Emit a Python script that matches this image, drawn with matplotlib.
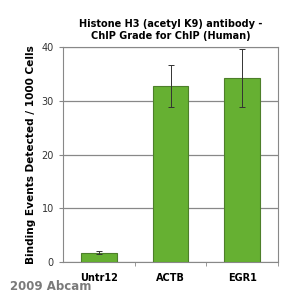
import numpy as np
import matplotlib
matplotlib.use('Agg')
import matplotlib.pyplot as plt

categories = ['Untr12', 'ACTB', 'EGR1']
values = [1.7, 32.7, 34.2]
errors = [0.3, 3.9, 5.4]

fig = plt.figure(figsize=(3.01, 2.96), dpi=100)
ax = fig.add_axes([0.209, 0.115, 0.715, 0.726])

x = np.arange(len(categories))
ax.bar(x, values, width=0.5, color='#66b032', edgecolor='#4d7f2a', linewidth=0.8, zorder=3)
ax.errorbar(x, values, yerr=errors, fmt='none', ecolor='#333333', elinewidth=0.7,
            capsize=2, capthick=0.7, zorder=4)

ax.set_xlim(-0.5, 2.5)
ax.set_ylim(0, 40)
ax.set_yticks([0, 10, 20, 30, 40])
ax.yaxis.grid(True, color='#888888', linewidth=0.9, zorder=0)
ax.set_xticks(x)
ax.set_xticklabels(categories, fontsize=7, fontweight='bold')
ax.tick_params(axis='x', length=0, pad=8)
ax.set_xticks([0.5, 1.5, 2.5], minor=True)
ax.tick_params(axis='x', which='minor', length=3, color='#888888')
ax.tick_params(axis='y', labelsize=7, length=3, color='#888888', labelcolor='#333333')
for s in ax.spines.values():
    s.set_color('#888888')
    s.set_linewidth(0.8)

ax.set_ylabel('Binding Events Detected / 1000 Cells', fontsize=7.6, fontweight='bold')
ax.set_title('Histone H3 (acetyl K9) antibody -\nChIP Grade for ChIP (Human)',
             fontsize=7, fontweight='bold', pad=6)

fig.text(0.033, 0.02, '2009 Abcam', fontsize=8.5, fontweight='bold', color='#7a7a7a')

fig.savefig('out.png', dpi=100)
